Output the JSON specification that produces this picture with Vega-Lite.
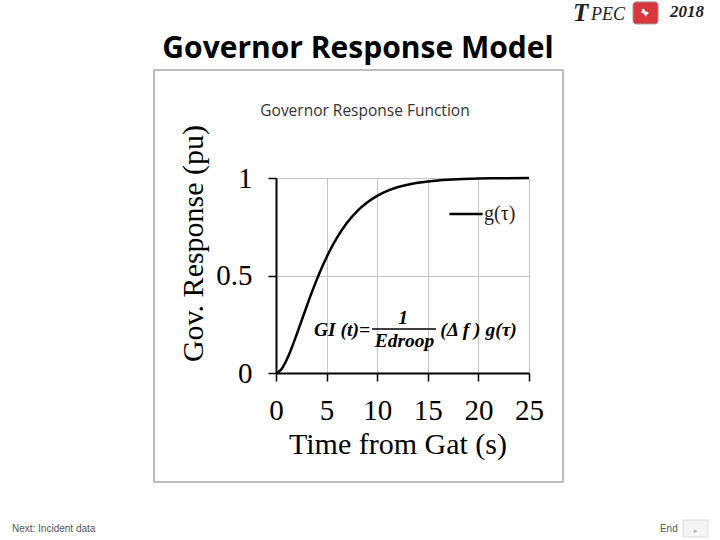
{
  "$schema": "https://vega.github.io/schema/vega-lite/v6.json",
  "width": 253,
  "height": 195,
  "autosize": {"type": "none"},
  "padding": {"left": 276, "top": 178, "right": 191, "bottom": 167},
  "background": "white",
  "config": {
    "view": {"stroke": null},
    "axis": {
      "domainColor": "black", "domainWidth": 2,
      "tickColor": "black", "tickWidth": 1.5, "tickSize": 8,
      "gridColor": "#c4c4c4", "gridWidth": 1,
      "labelFont": "Liberation Serif", "labelFontSize": 29, "labelColor": "black",
      "titleFont": "Liberation Serif", "titleFontSize": 30, "titleFontWeight": "normal", "titleColor": "black",
      "labelFlush": false, "labelOverlap": false
    }
  },
  "datasets": {
    "curve": [
      {"x": 0, "y": 0, "series": "g(τ)"},
      {"x": 0.5, "y": 0.0175, "series": "g(τ)"},
      {"x": 1, "y": 0.0616, "series": "g(τ)"},
      {"x": 1.5, "y": 0.1219, "series": "g(τ)"},
      {"x": 2, "y": 0.1912, "series": "g(τ)"},
      {"x": 2.5, "y": 0.2642, "series": "g(τ)"},
      {"x": 3, "y": 0.3374, "series": "g(τ)"},
      {"x": 3.5, "y": 0.4082, "series": "g(τ)"},
      {"x": 4, "y": 0.4751, "series": "g(τ)"},
      {"x": 4.5, "y": 0.5372, "series": "g(τ)"},
      {"x": 5, "y": 0.594, "series": "g(τ)"},
      {"x": 5.5, "y": 0.6454, "series": "g(τ)"},
      {"x": 6, "y": 0.6916, "series": "g(τ)"},
      {"x": 7, "y": 0.7689, "series": "g(τ)"},
      {"x": 8, "y": 0.8288, "series": "g(τ)"},
      {"x": 9, "y": 0.8743, "series": "g(τ)"},
      {"x": 10, "y": 0.9084, "series": "g(τ)"},
      {"x": 11, "y": 0.9337, "series": "g(τ)"},
      {"x": 12, "y": 0.9523, "series": "g(τ)"},
      {"x": 13, "y": 0.9658, "series": "g(τ)"},
      {"x": 14, "y": 0.9756, "series": "g(τ)"},
      {"x": 15, "y": 0.9826, "series": "g(τ)"},
      {"x": 16, "y": 0.9877, "series": "g(τ)"},
      {"x": 17, "y": 0.9913, "series": "g(τ)"},
      {"x": 18, "y": 0.9939, "series": "g(τ)"},
      {"x": 20, "y": 0.997, "series": "g(τ)"},
      {"x": 22, "y": 0.9985, "series": "g(τ)"},
      {"x": 25, "y": 0.9995, "series": "g(τ)"}
    ],
    "frame": [{"x": -12.06, "x2": 28.36, "y": 1.554, "y2": -0.559}],
    "slideTitle": [{"x": 8.1, "y": 1.615, "text": "Governor Response Model"}],
    "subtitle": [{"x": 8.79, "y": 1.318, "text": "Governor Response Function"}],
    "formula": [
      {"x": 6.52, "y": 0.19, "text": "GI (t)="},
      {"x": 12.55, "y": 0.251, "text": "1"},
      {"x": 12.7, "y": 0.133, "text": "Edroop"},
      {"x": 20.01, "y": 0.19, "text": "(Δ f ) g(τ)"}
    ],
    "fractionBar": [{"x": 9.49, "x2": 15.81, "y": 0.2256}],
    "footer": [
      {"x": -26.09, "y": -0.815, "text": "Next: Incident data"},
      {"x": 37.94, "y": -0.815, "text": "End"}
    ],
    "button": [{"x": 40.22, "x2": 42.69, "y": -0.754, "y2": -0.841}],
    "buttonIcon": [{"x": 41.45, "y": -0.81, "text": "▸"}],
    "logoT": [{"x": 29.35, "y": 1.805, "text": "T"}],
    "logoPEC": [{"x": 31.13, "y": 1.81, "text": "PEC"}],
    "logoYear": [{"x": 38.93, "y": 1.826, "text": "2018"}],
    "logoBox": [{"x": 35.28, "x2": 37.75, "y": 1.903, "y2": 1.79}],
    "logoState": [{"x": 36.5, "y": 1.85}]
  },
  "encoding": {
    "x": {
      "field": "x", "type": "quantitative",
      "scale": {"domain": [0, 25], "nice": false, "zero": false},
      "axis": {
        "values": [0, 5, 10, 15, 20, 25], "format": "~g",
        "title": "Time from Gat (s)",
        "labelPadding": 15,
        "titleX": 121.5, "titleY": 80, "titleBaseline": "alphabetic", "titleAlign": "center"
      }
    },
    "y": {
      "field": "y", "type": "quantitative",
      "scale": {"domain": [0, 1], "nice": false, "zero": false},
      "axis": {
        "values": [0, 0.5, 1], "format": "~g",
        "title": "Gov. Response (pu)",
        "labelPadding": 16,
        "titleX": -74, "titleY": 65, "titleAngle": -90, "titleBaseline": "alphabetic", "titleAlign": "center"
      }
    }
  },
  "layer": [
    {
      "data": {"name": "frame"},
      "mark": {"type": "rect", "filled": false, "stroke": "#a6a6a6", "strokeWidth": 1.5},
      "encoding": {"x2": {"field": "x2"}, "y2": {"field": "y2"}}
    },
    {
      "data": {"name": "curve"},
      "mark": {"type": "line", "interpolate": "monotone", "strokeWidth": 2.5},
      "encoding": {
        "color": {
          "field": "series", "type": "nominal",
          "scale": {"range": ["black"]},
          "legend": {
            "orient": "none", "legendX": 172, "legendY": 18, "title": null,
            "symbolType": "stroke", "symbolSize": 1100, "symbolStrokeWidth": 2.5, "symbolStrokeColor": "black",
            "labelFont": "Liberation Serif", "labelFontSize": 20, "labelColor": "#222222", "labelOffset": 0, "padding": 0
          }
        }
      }
    },
    {
      "data": {"name": "slideTitle"},
      "mark": {"type": "text", "font": "Open Sans", "fontSize": 30, "fontWeight": "bold", "color": "black", "align": "center", "baseline": "alphabetic"},
      "encoding": {"text": {"field": "text"}}
    },
    {
      "data": {"name": "subtitle"},
      "mark": {"type": "text", "font": "Open Sans", "fontSize": 15.5, "color": "#333333", "align": "center", "baseline": "alphabetic"},
      "encoding": {"text": {"field": "text"}}
    },
    {
      "data": {"name": "formula"},
      "mark": {"type": "text", "font": "Liberation Serif", "fontSize": 19.5, "fontWeight": "bold", "fontStyle": "italic", "color": "black", "align": "center", "baseline": "alphabetic"},
      "encoding": {"text": {"field": "text"}}
    },
    {
      "data": {"name": "fractionBar"},
      "mark": {"type": "rule", "color": "black", "strokeWidth": 1.5},
      "encoding": {"x2": {"field": "x2"}}
    },
    {
      "data": {"name": "footer"},
      "mark": {"type": "text", "font": "Liberation Sans", "fontSize": 10, "color": "#555555", "align": "left", "baseline": "alphabetic"},
      "encoding": {"text": {"field": "text"}}
    },
    {
      "data": {"name": "button"},
      "mark": {"type": "rect", "fill": "#f4f4f4", "stroke": "#dddddd", "strokeWidth": 1},
      "encoding": {"x2": {"field": "x2"}, "y2": {"field": "y2"}}
    },
    {
      "data": {"name": "buttonIcon"},
      "mark": {"type": "text", "font": "DejaVu Sans", "fontSize": 7, "color": "#aaaaaa", "align": "center", "baseline": "middle"},
      "encoding": {"text": {"field": "text"}}
    },
    {
      "data": {"name": "logoT"},
      "mark": {"type": "text", "font": "Liberation Serif", "fontSize": 25, "fontWeight": "bold", "fontStyle": "italic", "color": "#222222", "align": "left", "baseline": "alphabetic"},
      "encoding": {"text": {"field": "text"}}
    },
    {
      "data": {"name": "logoPEC"},
      "mark": {"type": "text", "font": "Liberation Serif", "fontSize": 18, "fontStyle": "italic", "color": "#222222", "align": "left", "baseline": "alphabetic"},
      "encoding": {"text": {"field": "text"}}
    },
    {
      "data": {"name": "logoBox"},
      "mark": {"type": "rect", "fill": "#d9363e", "stroke": "#999999", "strokeWidth": 1, "cornerRadius": 3},
      "encoding": {"x2": {"field": "x2"}, "y2": {"field": "y2"}}
    },
    {
      "data": {"name": "logoState"},
      "mark": {"type": "point", "filled": true, "color": "white", "opacity": 1, "size": 90,
        "shape": "M-0.7,-0.7 L-0.15,-0.7 L-0.15,-0.2 L0.6,-0.05 L0.65,0.3 L0.25,0.55 L0.15,0.95 L-0.15,0.6 L-0.35,0.25 L-0.6,0.2 L-0.95,-0.1 L-0.7,-0.15 Z"},
      "encoding": {}
    },
    {
      "data": {"name": "logoYear"},
      "mark": {"type": "text", "font": "Liberation Serif", "fontSize": 17, "fontWeight": "bold", "fontStyle": "italic", "color": "#222222", "align": "left", "baseline": "alphabetic"},
      "encoding": {"text": {"field": "text"}}
    }
  ]
}
